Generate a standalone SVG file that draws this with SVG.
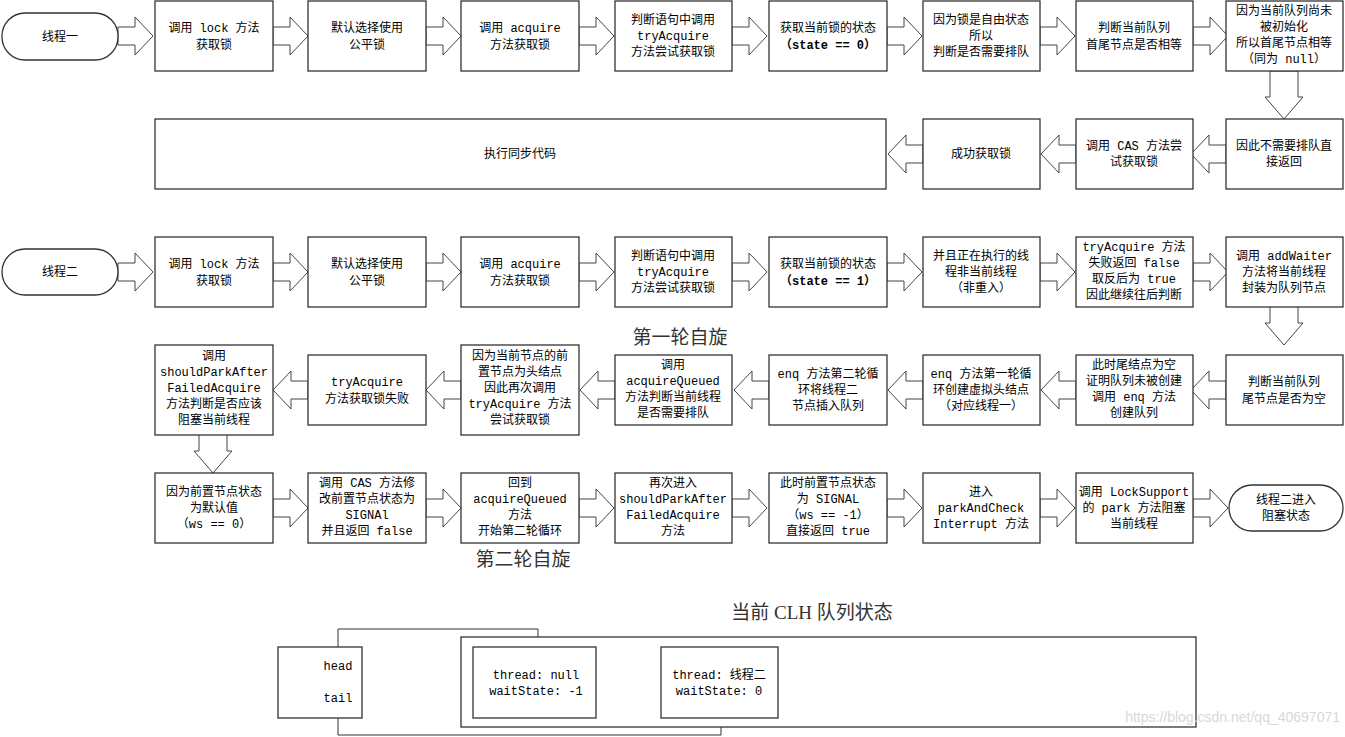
<svg xmlns="http://www.w3.org/2000/svg" width="1345" height="737" viewBox="0 0 1345 737">
<style>
.b{fill:#fff;stroke:#333;stroke-width:1.3}
.t{font-family:"Liberation Mono","Noto Sans CJK SC",monospace;font-size:12px;fill:#000;text-anchor:middle}
.c{fill:#fff;stroke:#444;stroke-width:1}
.l{fill:none;stroke:#333;stroke-width:1}
.h{font-family:"Liberation Serif","Noto Sans CJK SC",serif;font-size:19px;fill:#333;text-anchor:middle}
</style>
<defs>
<path id="ar" class="c" d="M0,-9H17V-19L35,0L17,19V9H0Z"/>
<path id="ad" class="c" d="M-14,0H14V26H19L0,48L-19,26H-14Z"/>
</defs>
<rect width="1345" height="737" fill="#fff"/>
<g id="connectors">
<use href="#ar" x="118" y="36"/><use href="#ar" x="273" y="36"/><use href="#ar" x="426" y="36"/><use href="#ar" x="579" y="36"/><use href="#ar" x="732" y="36"/><use href="#ar" x="887" y="36"/><use href="#ar" x="1040" y="36"/><use href="#ar" x="1193" y="36"/>
<use href="#ad" x="1284" y="71"/>
<use href="#ar" transform="translate(1226,154) scale(-1,1)"/><use href="#ar" transform="translate(1076,154) scale(-1,1)"/><use href="#ar" transform="translate(923,154) scale(-1,1)"/>
<use href="#ar" x="118" y="272"/><use href="#ar" x="273" y="272"/><use href="#ar" x="426" y="272"/><use href="#ar" x="579" y="272"/><use href="#ar" x="732" y="272"/><use href="#ar" x="887" y="272"/><use href="#ar" x="1040" y="272"/><use href="#ar" x="1193" y="272"/>
<use href="#ad" x="1284" y="307" transform="translate(0,-10) "/>
<use href="#ar" transform="translate(1226,390) scale(-1,1)"/><use href="#ar" transform="translate(1076,390) scale(-1,1)"/><use href="#ar" transform="translate(923,390) scale(-1,1)"/><use href="#ar" transform="translate(769,390) scale(-1,1)"/><use href="#ar" transform="translate(615,390) scale(-1,1)"/><use href="#ar" transform="translate(461,390) scale(-1,1)"/><use href="#ar" transform="translate(308,390) scale(-1,1)"/>
<use href="#ad" x="213" y="435" transform="translate(0,-10)"/>
<use href="#ar" x="273" y="508"/><use href="#ar" x="426" y="508"/><use href="#ar" x="579" y="508"/><use href="#ar" x="732" y="508"/><use href="#ar" x="887" y="508"/><use href="#ar" x="1040" y="508"/><use href="#ar" x="1193" y="508"/>
<polyline class="l" points="338,647 338,629 538,629 538,647"/>
<polyline class="l" points="338,718 338,735 721,735 721,718"/>
<path class="c" d="M596,682L614,662V675H643V662L661,682L643,702V689H614V702Z"/>
</g>
<g id="n1"><rect class="b" x="2" y="13" width="116" height="47" rx="23"/><text class="t" x="60" y="41">线程一</text></g>
<g id="r1">
<rect class="b" x="155" y="1" width="118" height="70"/><text class="t" x="214" y="32">调用 lock 方法</text><text class="t" x="214" y="49">获取锁</text>
<rect class="b" x="308" y="1" width="118" height="70"/><text class="t" x="367" y="32">默认选择使用</text><text class="t" x="367" y="49">公平锁</text>
<rect class="b" x="461" y="1" width="118" height="70"/><text class="t" x="520" y="32">调用 acquire</text><text class="t" x="520" y="49">方法获取锁</text>
<rect class="b" x="615" y="1" width="117" height="70"/><text class="t" x="673" y="24">判断语句中调用</text><text class="t" x="673" y="40">tryAcquire</text><text class="t" x="673" y="56">方法尝试获取锁</text>
<rect class="b" x="769" y="1" width="118" height="70"/><text class="t" x="828" y="32">获取当前锁的状态</text><text class="t" x="828" y="49" font-weight="bold">（state == 0）</text>
<rect class="b" x="923" y="1" width="117" height="70"/><text class="t" x="981" y="24">因为锁是自由状态</text><text class="t" x="981" y="40">所以</text><text class="t" x="981" y="56">判断是否需要排队</text>
<rect class="b" x="1076" y="1" width="117" height="70"/><text class="t" x="1134" y="32">判断当前队列</text><text class="t" x="1134" y="49">首尾节点是否相等</text>
<rect class="b" x="1226" y="1" width="117" height="70"/><text class="t" x="1284" y="15">因为当前队列尚未</text><text class="t" x="1284" y="31">被初始化</text><text class="t" x="1284" y="47">所以首尾节点相等</text><text class="t" x="1284" y="63">（同为 null）</text>
</g>
<g id="r2">
<rect class="b" x="155" y="119" width="731" height="70"/><text class="t" x="520" y="158">执行同步代码</text>
<rect class="b" x="923" y="119" width="117" height="70"/><text class="t" x="981" y="158">成功获取锁</text>
<rect class="b" x="1076" y="119" width="117" height="70"/><text class="t" x="1134" y="150">调用 CAS 方法尝</text><text class="t" x="1134" y="166">试获取锁</text>
<rect class="b" x="1226" y="119" width="117" height="70"/><text class="t" x="1284" y="150">因此不需要排队直</text><text class="t" x="1284" y="166">接返回</text>
</g>
<g id="n2"><rect class="b" x="2" y="249" width="116" height="46" rx="23"/><text class="t" x="60" y="276">线程二</text></g>
<g id="r3">
<rect class="b" x="155" y="237" width="118" height="70"/><text class="t" x="214" y="268">调用 lock 方法</text><text class="t" x="214" y="285">获取锁</text>
<rect class="b" x="308" y="237" width="118" height="70"/><text class="t" x="367" y="268">默认选择使用</text><text class="t" x="367" y="285">公平锁</text>
<rect class="b" x="461" y="237" width="118" height="70"/><text class="t" x="520" y="268">调用 acquire</text><text class="t" x="520" y="285">方法获取锁</text>
<rect class="b" x="615" y="237" width="117" height="70"/><text class="t" x="673" y="260">判断语句中调用</text><text class="t" x="673" y="276">tryAcquire</text><text class="t" x="673" y="292">方法尝试获取锁</text>
<rect class="b" x="769" y="237" width="118" height="70"/><text class="t" x="828" y="268">获取当前锁的状态</text><text class="t" x="828" y="285" font-weight="bold">（state == 1）</text>
<rect class="b" x="923" y="237" width="117" height="70"/><text class="t" x="981" y="260">并且正在执行的线</text><text class="t" x="981" y="276">程非当前线程</text><text class="t" x="981" y="292">（非重入）</text>
<rect class="b" x="1076" y="237" width="117" height="70"/><text class="t" x="1134" y="251">tryAcquire 方法</text><text class="t" x="1134" y="267">失败返回 false</text><text class="t" x="1134" y="283">取反后为 true</text><text class="t" x="1134" y="299">因此继续往后判断</text>
<rect class="b" x="1226" y="237" width="117" height="70"/><text class="t" x="1284" y="260">调用 addWaiter</text><text class="t" x="1284" y="276">方法将当前线程</text><text class="t" x="1284" y="292">封装为队列节点</text>
</g>
<text class="h" x="680" y="344">第一轮自旋</text>
<g id="r4">
<rect class="b" x="1226" y="355" width="117" height="70"/><text class="t" x="1284" y="386">判断当前队列</text><text class="t" x="1284" y="403">尾节点是否为空</text>
<rect class="b" x="1076" y="355" width="117" height="70"/><text class="t" x="1134" y="369">此时尾结点为空</text><text class="t" x="1134" y="385">证明队列未被创建</text><text class="t" x="1134" y="401">调用 enq 方法</text><text class="t" x="1134" y="417">创建队列</text>
<rect class="b" x="923" y="355" width="117" height="70"/><text class="t" x="981" y="378">enq 方法第一轮循</text><text class="t" x="981" y="394">环创建虚拟头结点</text><text class="t" x="981" y="410">（对应线程一）</text>
<rect class="b" x="769" y="355" width="118" height="70"/><text class="t" x="828" y="378">enq 方法第二轮循</text><text class="t" x="828" y="394">环将线程二</text><text class="t" x="828" y="410">节点插入队列</text>
<rect class="b" x="615" y="355" width="117" height="70"/><text class="t" x="673" y="369">调用</text><text class="t" x="673" y="385">acquireQueued</text><text class="t" x="673" y="401">方法判断当前线程</text><text class="t" x="673" y="417">是否需要排队</text>
<rect class="b" x="461" y="345" width="118" height="90"/><text class="t" x="520" y="360">因为当前节点的前</text><text class="t" x="520" y="376">置节点为头结点</text><text class="t" x="520" y="392">因此再次调用</text><text class="t" x="520" y="408">tryAcquire 方法</text><text class="t" x="520" y="424">尝试获取锁</text>
<rect class="b" x="308" y="355" width="118" height="70"/><text class="t" x="367" y="386">tryAcquire</text><text class="t" x="367" y="403">方法获取锁失败</text>
<rect class="b" x="155" y="345" width="118" height="90"/><text class="t" x="214" y="360">调用</text><text class="t" x="214" y="376">shouldParkAfter</text><text class="t" x="214" y="392">FailedAcquire</text><text class="t" x="214" y="408">方法判断是否应该</text><text class="t" x="214" y="424">阻塞当前线程</text>
</g>
<g id="r5">
<rect class="b" x="155" y="473" width="118" height="70"/><text class="t" x="214" y="496">因为前置节点状态</text><text class="t" x="214" y="512">为默认值</text><text class="t" x="214" y="528">（ws == 0）</text>
<rect class="b" x="308" y="473" width="118" height="70"/><text class="t" x="367" y="487">调用 CAS 方法修</text><text class="t" x="367" y="503">改前置节点状态为</text><text class="t" x="367" y="519">SIGNAl</text><text class="t" x="367" y="535">并且返回 false</text>
<rect class="b" x="461" y="473" width="118" height="70"/><text class="t" x="520" y="487">回到</text><text class="t" x="520" y="503">acquireQueued</text><text class="t" x="520" y="519">方法</text><text class="t" x="520" y="535">开始第二轮循环</text>
<rect class="b" x="615" y="473" width="117" height="70"/><text class="t" x="673" y="487">再次进入</text><text class="t" x="673" y="503">shouldParkAfter</text><text class="t" x="673" y="519">FailedAcquire</text><text class="t" x="673" y="535">方法</text>
<rect class="b" x="769" y="473" width="118" height="70"/><text class="t" x="828" y="487">此时前置节点状态</text><text class="t" x="828" y="503">为 SIGNAL</text><text class="t" x="828" y="519">（ws == -1）</text><text class="t" x="828" y="535">直接返回 true</text>
<rect class="b" x="923" y="473" width="117" height="70"/><text class="t" x="981" y="496">进入</text><text class="t" x="981" y="512">parkAndCheck</text><text class="t" x="981" y="528">Interrupt 方法</text>
<rect class="b" x="1076" y="473" width="117" height="70"/><text class="t" x="1134" y="496">调用 LockSupport</text><text class="t" x="1134" y="512">的 park 方法阻塞</text><text class="t" x="1134" y="528">当前线程</text>
</g>
<g id="n3"><rect class="b" x="1229" y="485" width="114" height="46" rx="23"/><text class="t" x="1286" y="504">线程二进入</text><text class="t" x="1286" y="520">阻塞状态</text></g>
<text class="h" x="523" y="566">第二轮自旋</text>
<text class="h" x="812" y="619">当前 CLH 队列状态</text>
<g id="clh">
<rect class="b" x="461" y="637" width="735" height="90"/>
<rect class="b" x="278" y="647" width="84" height="71"/><text class="t" x="338" y="670">head</text><text class="t" x="338" y="702">tail</text>
<rect class="b" x="473" y="647" width="123" height="71"/><text class="t" x="536" y="679">thread: null</text><text class="t" x="536" y="695">waitState: -1</text>
<rect class="b" x="661" y="647" width="117" height="71"/><text class="t" x="719" y="679">thread: 线程二</text><text class="t" x="719" y="695">waitState: 0</text>
</g>
<text x="1340" y="722" font-family="Liberation Sans,sans-serif" font-size="14" fill="#d8d8d8" text-anchor="end">https://blog.csdn.net/qq_40697071</text>
</svg>
